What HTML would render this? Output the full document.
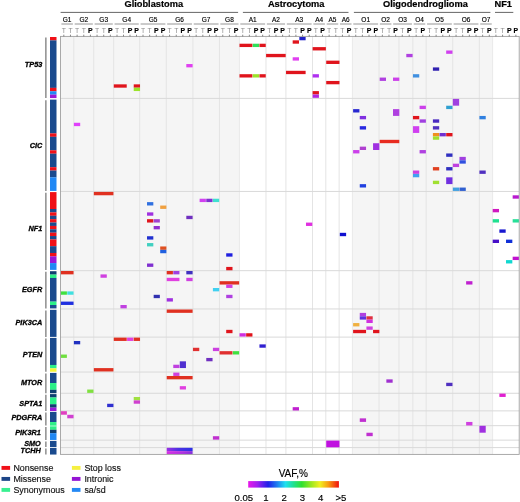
<!DOCTYPE html>
<html lang="en"><head><meta charset="utf-8"><title>VAF heatmap</title>
<style>html,body{margin:0;padding:0;background:#fff;}body{width:520px;height:502px;overflow:hidden;}svg{display:block;font-family:'Liberation Sans', Arial, Helvetica, sans-serif;filter:blur(0.35px);}</style></head><body>
<svg width="520" height="502" viewBox="0 0 520 502">
<rect x="0" y="0" width="520" height="502" fill="#ffffff"/>
<rect x="60.50" y="36.40" width="178.90" height="418.00" fill="#f5f5f5"/>
<rect x="239.40" y="36.40" width="113.02" height="418.00" fill="#ffffff"/>
<rect x="352.41" y="36.40" width="140.21" height="418.00" fill="#f5f5f5"/>
<rect x="492.62" y="36.40" width="26.59" height="418.00" fill="#ffffff"/>
<line x1="73.80" y1="36.40" x2="73.80" y2="454.40" stroke="#e4e4e4" stroke-width="1"/>
<line x1="93.74" y1="36.40" x2="93.74" y2="454.40" stroke="#e4e4e4" stroke-width="1"/>
<line x1="113.68" y1="36.40" x2="113.68" y2="454.40" stroke="#e4e4e4" stroke-width="1"/>
<line x1="139.68" y1="36.40" x2="139.68" y2="454.40" stroke="#e4e4e4" stroke-width="1"/>
<line x1="166.27" y1="36.40" x2="166.27" y2="454.40" stroke="#e4e4e4" stroke-width="1"/>
<line x1="192.86" y1="36.40" x2="192.86" y2="454.40" stroke="#e4e4e4" stroke-width="1"/>
<line x1="219.45" y1="36.40" x2="219.45" y2="454.40" stroke="#e4e4e4" stroke-width="1"/>
<line x1="239.40" y1="36.40" x2="239.40" y2="454.40" stroke="#e9e9e9" stroke-width="1"/>
<line x1="265.99" y1="36.40" x2="265.99" y2="454.40" stroke="#e4e4e4" stroke-width="1"/>
<line x1="285.93" y1="36.40" x2="285.93" y2="454.40" stroke="#e4e4e4" stroke-width="1"/>
<line x1="312.52" y1="36.40" x2="312.52" y2="454.40" stroke="#e4e4e4" stroke-width="1"/>
<line x1="325.82" y1="36.40" x2="325.82" y2="454.40" stroke="#e4e4e4" stroke-width="1"/>
<line x1="339.12" y1="36.40" x2="339.12" y2="454.40" stroke="#e4e4e4" stroke-width="1"/>
<line x1="352.41" y1="36.40" x2="352.41" y2="454.40" stroke="#e9e9e9" stroke-width="1"/>
<line x1="379.00" y1="36.40" x2="379.00" y2="454.40" stroke="#e4e4e4" stroke-width="1"/>
<line x1="398.95" y1="36.40" x2="398.95" y2="454.40" stroke="#e4e4e4" stroke-width="1"/>
<line x1="412.84" y1="36.40" x2="412.84" y2="454.40" stroke="#e4e4e4" stroke-width="1"/>
<line x1="426.14" y1="36.40" x2="426.14" y2="454.40" stroke="#e4e4e4" stroke-width="1"/>
<line x1="452.73" y1="36.40" x2="452.73" y2="454.40" stroke="#e4e4e4" stroke-width="1"/>
<line x1="479.32" y1="36.40" x2="479.32" y2="454.40" stroke="#e4e4e4" stroke-width="1"/>
<line x1="492.62" y1="36.40" x2="492.62" y2="454.40" stroke="#e9e9e9" stroke-width="1"/>
<line x1="60.50" y1="98.39" x2="519.21" y2="98.39" stroke="#d9d9d9" stroke-width="1"/>
<line x1="60.50" y1="191.44" x2="519.21" y2="191.44" stroke="#d9d9d9" stroke-width="1"/>
<line x1="60.50" y1="270.67" x2="519.21" y2="270.67" stroke="#d9d9d9" stroke-width="1"/>
<line x1="60.50" y1="308.95" x2="519.21" y2="308.95" stroke="#d9d9d9" stroke-width="1"/>
<line x1="60.50" y1="337.11" x2="519.21" y2="337.11" stroke="#d9d9d9" stroke-width="1"/>
<line x1="60.50" y1="372.05" x2="519.21" y2="372.05" stroke="#d9d9d9" stroke-width="1"/>
<line x1="60.50" y1="393.27" x2="519.21" y2="393.27" stroke="#d9d9d9" stroke-width="1"/>
<line x1="60.50" y1="410.88" x2="519.21" y2="410.88" stroke="#d9d9d9" stroke-width="1"/>
<line x1="60.50" y1="425.66" x2="519.21" y2="425.66" stroke="#d9d9d9" stroke-width="1"/>
<line x1="60.50" y1="440.14" x2="519.21" y2="440.14" stroke="#d9d9d9" stroke-width="1"/>
<line x1="60.50" y1="447.58" x2="519.21" y2="447.58" stroke="#d9d9d9" stroke-width="1"/>
<defs><linearGradient id="tc0" x1="0" y1="0" x2="1" y2="0"><stop offset="0" stop-color="#9a30e4"/><stop offset="0.45" stop-color="#4c30e4"/><stop offset="1" stop-color="#2c30e4"/></linearGradient><linearGradient id="tc1" x1="0" y1="0" x2="1" y2="0"><stop offset="0" stop-color="#d630e4"/><stop offset="0.6" stop-color="#b030e0"/><stop offset="1" stop-color="#8430dc"/></linearGradient></defs>
<rect x="299.33" y="36.95" width="6.30" height="3.33" fill="#2222c8"/>
<rect x="292.68" y="40.34" width="6.30" height="3.33" fill="#e0141c"/>
<rect x="239.50" y="43.72" width="12.95" height="3.33" fill="#e0141c"/>
<rect x="252.79" y="43.72" width="6.30" height="3.33" fill="#30e058"/>
<rect x="259.44" y="43.72" width="6.30" height="3.33" fill="#e0141c"/>
<rect x="312.62" y="47.11" width="13.25" height="3.33" fill="#e0141c"/>
<rect x="446.18" y="50.49" width="6.30" height="3.33" fill="#d040ee"/>
<rect x="266.09" y="53.88" width="19.59" height="3.33" fill="#e0141c"/>
<rect x="406.30" y="53.88" width="6.30" height="3.33" fill="#b040e0"/>
<rect x="292.68" y="57.26" width="6.30" height="3.33" fill="#e040f0"/>
<rect x="326.22" y="60.65" width="13.25" height="3.33" fill="#e0141c"/>
<rect x="186.31" y="64.03" width="6.30" height="3.33" fill="#e040f0"/>
<rect x="432.89" y="67.41" width="6.30" height="3.33" fill="#3020b0"/>
<rect x="286.03" y="70.80" width="19.59" height="3.33" fill="#e0141c"/>
<rect x="239.50" y="74.19" width="12.95" height="3.33" fill="#e0141c"/>
<rect x="252.79" y="74.19" width="6.30" height="3.33" fill="#9be32a"/>
<rect x="259.44" y="74.19" width="6.30" height="3.33" fill="#e0141c"/>
<rect x="312.62" y="74.19" width="6.30" height="3.33" fill="#b030f0"/>
<rect x="412.94" y="74.19" width="6.30" height="3.33" fill="#4090e0"/>
<rect x="379.70" y="77.57" width="6.30" height="3.33" fill="#b040e0"/>
<rect x="393.00" y="77.57" width="6.30" height="3.33" fill="#cc40ea"/>
<rect x="326.22" y="80.95" width="13.25" height="3.33" fill="#e0141c"/>
<rect x="113.78" y="84.34" width="12.95" height="3.33" fill="#e0141c"/>
<rect x="133.73" y="84.34" width="6.30" height="3.33" fill="#e0141c"/>
<rect x="133.73" y="87.72" width="6.30" height="3.33" fill="#9be32a"/>
<rect x="312.62" y="91.11" width="6.30" height="3.33" fill="#e0141c"/>
<rect x="312.62" y="94.50" width="6.30" height="3.33" fill="#b028e0"/>
<rect x="452.83" y="98.90" width="6.30" height="6.77" fill="#a040e0"/>
<rect x="419.59" y="105.72" width="6.30" height="3.36" fill="#cc40ea"/>
<rect x="446.18" y="105.72" width="6.30" height="3.36" fill="#30a0d0"/>
<rect x="353.11" y="109.13" width="6.30" height="3.36" fill="#2828d0"/>
<rect x="393.00" y="109.13" width="6.30" height="6.77" fill="#b040e0"/>
<rect x="359.76" y="115.95" width="6.30" height="3.36" fill="#8030e0"/>
<rect x="412.94" y="115.95" width="6.30" height="3.36" fill="#e0141c"/>
<rect x="479.42" y="115.95" width="6.30" height="3.36" fill="#3080e0"/>
<rect x="419.59" y="119.36" width="6.30" height="3.36" fill="#a040e0"/>
<rect x="432.89" y="119.36" width="6.30" height="3.36" fill="#4828c0"/>
<rect x="73.90" y="122.77" width="6.30" height="3.36" fill="#e040fb"/>
<rect x="359.76" y="126.18" width="6.30" height="3.36" fill="#2828e0"/>
<rect x="412.94" y="126.18" width="6.30" height="6.77" fill="#d040f0"/>
<rect x="432.89" y="126.18" width="6.30" height="3.36" fill="#5030c0"/>
<rect x="432.89" y="133.00" width="6.30" height="3.36" fill="#f09020"/>
<rect x="439.54" y="133.00" width="6.30" height="3.36" fill="#7030d0"/>
<rect x="446.18" y="133.00" width="6.30" height="3.36" fill="#e0141c"/>
<rect x="432.89" y="136.41" width="6.30" height="3.36" fill="#a0e030"/>
<rect x="379.70" y="139.82" width="19.59" height="3.36" fill="#e82c20"/>
<rect x="373.06" y="143.23" width="6.30" height="6.77" fill="#a030e0"/>
<rect x="359.76" y="146.64" width="6.30" height="3.36" fill="#b040d0"/>
<rect x="353.11" y="150.05" width="6.30" height="3.36" fill="#cc40ea"/>
<rect x="419.59" y="150.05" width="6.30" height="3.36" fill="#b040e0"/>
<rect x="446.18" y="153.46" width="6.30" height="3.36" fill="#3030c0"/>
<rect x="459.48" y="156.87" width="6.30" height="3.36" fill="#a040e0"/>
<rect x="459.48" y="160.28" width="6.30" height="3.36" fill="#3050e0"/>
<rect x="452.83" y="163.69" width="6.30" height="3.36" fill="#c040e0"/>
<rect x="432.89" y="167.10" width="6.30" height="3.36" fill="#e04020"/>
<rect x="446.18" y="167.10" width="6.30" height="3.36" fill="#3030c0"/>
<rect x="412.94" y="170.51" width="6.30" height="3.36" fill="#cc40e0"/>
<rect x="479.42" y="170.51" width="6.30" height="3.36" fill="#5030c0"/>
<rect x="412.94" y="173.92" width="6.30" height="3.36" fill="#40a0f0"/>
<rect x="446.18" y="177.33" width="6.30" height="6.77" fill="#7030e0"/>
<rect x="432.89" y="180.74" width="6.30" height="3.36" fill="#a0e030"/>
<rect x="359.76" y="184.15" width="6.30" height="3.36" fill="#2040e0"/>
<rect x="452.83" y="187.56" width="6.30" height="3.36" fill="#40a0e0"/>
<rect x="459.48" y="187.56" width="6.30" height="3.36" fill="#3060d0"/>
<rect x="93.84" y="191.90" width="19.59" height="3.36" fill="#e03020"/>
<rect x="512.66" y="195.31" width="6.30" height="3.36" fill="#b818d0"/>
<rect x="199.61" y="198.72" width="6.30" height="3.36" fill="#d040f0"/>
<rect x="206.26" y="198.72" width="6.30" height="3.36" fill="#8030d0"/>
<rect x="212.90" y="198.72" width="6.30" height="3.36" fill="#40e0d0"/>
<rect x="147.02" y="202.13" width="6.30" height="3.36" fill="#3070e0"/>
<rect x="160.20" y="205.54" width="6.18" height="3.36" fill="#f0a040"/>
<rect x="492.72" y="208.95" width="6.30" height="3.36" fill="#d018c0"/>
<rect x="147.02" y="212.36" width="6.30" height="3.36" fill="#a030e0"/>
<rect x="186.31" y="215.77" width="6.30" height="3.36" fill="#7030c0"/>
<rect x="147.02" y="219.18" width="6.30" height="3.36" fill="#e0141c"/>
<rect x="153.67" y="219.18" width="6.18" height="3.36" fill="#a040d0"/>
<rect x="492.72" y="219.18" width="6.30" height="3.36" fill="#20e090"/>
<rect x="512.66" y="219.18" width="6.30" height="3.36" fill="#28e098"/>
<rect x="305.98" y="222.59" width="6.30" height="3.36" fill="#e030e0"/>
<rect x="153.67" y="226.00" width="6.18" height="3.36" fill="#9030d0"/>
<rect x="499.37" y="229.41" width="6.30" height="3.36" fill="#1818d0"/>
<rect x="339.82" y="232.82" width="6.30" height="3.36" fill="#1010d0"/>
<rect x="147.02" y="236.23" width="6.30" height="3.36" fill="#2030d0"/>
<rect x="492.72" y="239.64" width="6.30" height="3.36" fill="#4810c8"/>
<rect x="506.02" y="239.64" width="6.30" height="3.36" fill="#1030d8"/>
<rect x="147.02" y="243.05" width="6.30" height="3.36" fill="#40d0c0"/>
<rect x="160.20" y="246.46" width="6.18" height="3.36" fill="#e05020"/>
<rect x="160.20" y="249.87" width="6.18" height="3.36" fill="#2060e0"/>
<rect x="226.20" y="253.28" width="6.30" height="3.36" fill="#2020e0"/>
<rect x="512.66" y="256.69" width="6.30" height="3.36" fill="#c010d0"/>
<rect x="506.02" y="260.10" width="6.30" height="3.36" fill="#10d8d0"/>
<rect x="147.02" y="263.51" width="6.30" height="3.36" fill="#8030d0"/>
<rect x="226.20" y="266.92" width="6.30" height="3.36" fill="#e0141c"/>
<rect x="60.60" y="271.00" width="12.95" height="3.35" fill="#e03020"/>
<rect x="166.73" y="271.00" width="6.18" height="3.35" fill="#e03020"/>
<rect x="173.26" y="271.00" width="6.18" height="3.35" fill="#a040e0"/>
<rect x="186.31" y="271.00" width="6.30" height="3.35" fill="#4030c0"/>
<rect x="100.49" y="274.40" width="6.30" height="3.35" fill="#d040e0"/>
<rect x="166.73" y="277.80" width="12.71" height="3.35" fill="#e040e0"/>
<rect x="186.31" y="277.80" width="6.30" height="3.35" fill="#d040e0"/>
<rect x="219.55" y="281.20" width="19.59" height="3.35" fill="#e03020"/>
<rect x="466.13" y="281.20" width="6.30" height="3.35" fill="#c020d0"/>
<rect x="226.20" y="284.60" width="6.30" height="3.35" fill="#d040e0"/>
<rect x="212.90" y="288.00" width="6.30" height="3.35" fill="#40d0f0"/>
<rect x="60.60" y="291.40" width="6.30" height="3.35" fill="#40e040"/>
<rect x="67.25" y="291.40" width="6.30" height="3.35" fill="#40e0e0"/>
<rect x="153.67" y="294.80" width="6.18" height="3.35" fill="#3030b0"/>
<rect x="226.20" y="294.80" width="6.30" height="3.35" fill="#b040e0"/>
<rect x="166.73" y="298.20" width="6.18" height="3.35" fill="#a030e0"/>
<rect x="60.60" y="301.60" width="12.95" height="3.35" fill="#2030e0"/>
<rect x="120.43" y="305.00" width="6.30" height="3.35" fill="#c040e0"/>
<rect x="166.73" y="309.50" width="25.88" height="3.34" fill="#e03020"/>
<rect x="359.76" y="312.89" width="6.30" height="3.34" fill="#b040e0"/>
<rect x="359.76" y="316.28" width="6.30" height="3.34" fill="#6030e0"/>
<rect x="366.41" y="316.28" width="6.30" height="3.34" fill="#e03040"/>
<rect x="366.41" y="319.67" width="6.30" height="3.34" fill="#d030e0"/>
<rect x="353.11" y="323.06" width="6.30" height="3.34" fill="#f0b040"/>
<rect x="366.41" y="326.45" width="6.30" height="3.34" fill="#d040e0"/>
<rect x="226.20" y="329.84" width="6.30" height="3.34" fill="#e0141c"/>
<rect x="353.11" y="329.84" width="12.95" height="3.34" fill="#e0141c"/>
<rect x="373.06" y="329.84" width="6.30" height="3.34" fill="#e0141c"/>
<rect x="239.50" y="333.23" width="6.30" height="3.34" fill="#d030e0"/>
<rect x="246.14" y="333.23" width="6.30" height="3.34" fill="#e0141c"/>
<rect x="113.78" y="337.60" width="12.95" height="3.34" fill="#e03020"/>
<rect x="127.08" y="337.60" width="6.30" height="3.34" fill="#e040e0"/>
<rect x="133.73" y="337.60" width="6.30" height="3.34" fill="#e03020"/>
<rect x="73.90" y="340.99" width="6.30" height="3.34" fill="#2030c0"/>
<rect x="259.44" y="344.38" width="6.30" height="3.34" fill="#3020d0"/>
<rect x="192.96" y="347.77" width="6.30" height="3.34" fill="#e03030"/>
<rect x="212.90" y="347.77" width="6.30" height="3.34" fill="#cc40e0"/>
<rect x="219.55" y="351.16" width="12.95" height="3.34" fill="#e03030"/>
<rect x="232.85" y="351.16" width="6.30" height="3.34" fill="#40e040"/>
<rect x="60.60" y="354.55" width="6.30" height="3.34" fill="#70e040"/>
<rect x="206.26" y="357.94" width="6.30" height="3.34" fill="#7030c0"/>
<rect x="179.78" y="361.33" width="6.18" height="6.73" fill="#5030d0"/>
<rect x="173.26" y="364.72" width="6.18" height="3.34" fill="#c040e0"/>
<rect x="93.84" y="368.11" width="19.59" height="3.34" fill="#e03020"/>
<rect x="173.26" y="372.60" width="6.18" height="3.34" fill="#d040e0"/>
<rect x="166.73" y="375.99" width="25.88" height="3.34" fill="#e03020"/>
<rect x="386.35" y="379.38" width="6.30" height="3.34" fill="#a030d0"/>
<rect x="446.18" y="382.77" width="6.30" height="3.34" fill="#5030c0"/>
<rect x="179.78" y="386.16" width="6.18" height="3.34" fill="#e040e0"/>
<rect x="87.19" y="389.55" width="6.30" height="3.34" fill="#80e040"/>
<rect x="499.37" y="393.60" width="6.30" height="3.34" fill="#e020d0"/>
<rect x="133.73" y="396.99" width="6.30" height="3.34" fill="#a0e040"/>
<rect x="133.73" y="400.38" width="6.30" height="3.34" fill="#d040d0"/>
<rect x="107.14" y="403.77" width="6.30" height="3.34" fill="#3030d0"/>
<rect x="292.68" y="407.16" width="6.30" height="3.34" fill="#c020d0"/>
<rect x="60.60" y="411.20" width="6.30" height="3.53" fill="#e040c0"/>
<rect x="67.25" y="414.78" width="6.30" height="3.53" fill="#d040d0"/>
<rect x="359.76" y="418.36" width="6.30" height="3.53" fill="#c030d0"/>
<rect x="466.13" y="421.94" width="6.30" height="3.53" fill="#d040e0"/>
<rect x="479.42" y="425.80" width="6.30" height="6.89" fill="#a030e0"/>
<rect x="366.41" y="432.74" width="6.30" height="3.42" fill="#c030d0"/>
<rect x="212.90" y="436.21" width="6.30" height="3.42" fill="#c030d0"/>
<rect x="326.22" y="440.60" width="13.25" height="6.71" fill="#c010e0"/>
<rect x="166.73" y="447.80" width="25.88" height="3.25" fill="url(#tc0)"/>
<rect x="166.73" y="451.10" width="25.88" height="3.25" fill="url(#tc1)"/>
<rect x="60.50" y="36.40" width="458.71" height="418.00" fill="none" stroke="#a0a0a0" stroke-width="0.9"/>
<line x1="63.82" y1="34.7" x2="63.82" y2="36.40" stroke="#555" stroke-width="0.7"/>
<text x="63.82" y="33.4" font-size="6.8" fill="#8c8c8c" text-anchor="middle">T</text>
<line x1="70.47" y1="34.7" x2="70.47" y2="36.40" stroke="#555" stroke-width="0.7"/>
<text x="70.47" y="33.4" font-size="6.8" fill="#8c8c8c" text-anchor="middle">T</text>
<line x1="61.40" y1="24.0" x2="72.90" y2="24.0" stroke="#8a8a8a" stroke-width="0.9"/>
<text x="67.15" y="21.6" font-size="6.5" fill="#000" stroke="#000" stroke-width="0.15" text-anchor="middle">G1</text>
<line x1="77.12" y1="34.7" x2="77.12" y2="36.40" stroke="#555" stroke-width="0.7"/>
<text x="77.12" y="33.4" font-size="6.8" fill="#8c8c8c" text-anchor="middle">T</text>
<line x1="83.77" y1="34.7" x2="83.77" y2="36.40" stroke="#555" stroke-width="0.7"/>
<text x="83.77" y="33.4" font-size="6.8" fill="#8c8c8c" text-anchor="middle">T</text>
<line x1="90.42" y1="34.7" x2="90.42" y2="36.40" stroke="#555" stroke-width="0.7"/>
<text x="90.42" y="33.4" font-size="6.9" font-weight="bold" fill="#000" stroke="#000" stroke-width="0.15" text-anchor="middle">P</text>
<line x1="74.70" y1="24.0" x2="92.84" y2="24.0" stroke="#8a8a8a" stroke-width="0.9"/>
<text x="83.77" y="21.6" font-size="6.5" fill="#000" stroke="#000" stroke-width="0.15" text-anchor="middle">G2</text>
<line x1="97.06" y1="34.7" x2="97.06" y2="36.40" stroke="#555" stroke-width="0.7"/>
<text x="97.06" y="33.4" font-size="6.8" fill="#8c8c8c" text-anchor="middle">T</text>
<line x1="103.71" y1="34.7" x2="103.71" y2="36.40" stroke="#555" stroke-width="0.7"/>
<text x="103.71" y="33.4" font-size="6.8" fill="#8c8c8c" text-anchor="middle">T</text>
<line x1="110.36" y1="34.7" x2="110.36" y2="36.40" stroke="#555" stroke-width="0.7"/>
<text x="110.36" y="33.4" font-size="6.9" font-weight="bold" fill="#000" stroke="#000" stroke-width="0.15" text-anchor="middle">P</text>
<line x1="94.64" y1="24.0" x2="112.78" y2="24.0" stroke="#8a8a8a" stroke-width="0.9"/>
<text x="103.71" y="21.6" font-size="6.5" fill="#000" stroke="#000" stroke-width="0.15" text-anchor="middle">G3</text>
<line x1="117.01" y1="34.7" x2="117.01" y2="36.40" stroke="#555" stroke-width="0.7"/>
<text x="117.01" y="33.4" font-size="6.8" fill="#8c8c8c" text-anchor="middle">T</text>
<line x1="123.51" y1="34.7" x2="123.51" y2="36.40" stroke="#555" stroke-width="0.7"/>
<text x="123.51" y="33.4" font-size="6.8" fill="#8c8c8c" text-anchor="middle">T</text>
<line x1="130.00" y1="34.7" x2="130.00" y2="36.40" stroke="#555" stroke-width="0.7"/>
<text x="130.00" y="33.4" font-size="6.9" font-weight="bold" fill="#000" stroke="#000" stroke-width="0.15" text-anchor="middle">P</text>
<line x1="136.50" y1="34.7" x2="136.50" y2="36.40" stroke="#555" stroke-width="0.7"/>
<text x="136.50" y="33.4" font-size="6.9" font-weight="bold" fill="#000" stroke="#000" stroke-width="0.15" text-anchor="middle">P</text>
<line x1="114.58" y1="24.0" x2="138.78" y2="24.0" stroke="#8a8a8a" stroke-width="0.9"/>
<text x="126.68" y="21.6" font-size="6.5" fill="#000" stroke="#000" stroke-width="0.15" text-anchor="middle">G4</text>
<line x1="143.00" y1="34.7" x2="143.00" y2="36.40" stroke="#555" stroke-width="0.7"/>
<text x="143.00" y="33.4" font-size="6.8" fill="#8c8c8c" text-anchor="middle">T</text>
<line x1="149.65" y1="34.7" x2="149.65" y2="36.40" stroke="#555" stroke-width="0.7"/>
<text x="149.65" y="33.4" font-size="6.8" fill="#8c8c8c" text-anchor="middle">T</text>
<line x1="156.30" y1="34.7" x2="156.30" y2="36.40" stroke="#555" stroke-width="0.7"/>
<text x="156.30" y="33.4" font-size="6.9" font-weight="bold" fill="#000" stroke="#000" stroke-width="0.15" text-anchor="middle">P</text>
<line x1="162.94" y1="34.7" x2="162.94" y2="36.40" stroke="#555" stroke-width="0.7"/>
<text x="162.94" y="33.4" font-size="6.9" font-weight="bold" fill="#000" stroke="#000" stroke-width="0.15" text-anchor="middle">P</text>
<line x1="140.58" y1="24.0" x2="165.37" y2="24.0" stroke="#8a8a8a" stroke-width="0.9"/>
<text x="152.97" y="21.6" font-size="6.5" fill="#000" stroke="#000" stroke-width="0.15" text-anchor="middle">G5</text>
<line x1="169.59" y1="34.7" x2="169.59" y2="36.40" stroke="#555" stroke-width="0.7"/>
<text x="169.59" y="33.4" font-size="6.8" fill="#8c8c8c" text-anchor="middle">T</text>
<line x1="176.24" y1="34.7" x2="176.24" y2="36.40" stroke="#555" stroke-width="0.7"/>
<text x="176.24" y="33.4" font-size="6.8" fill="#8c8c8c" text-anchor="middle">T</text>
<line x1="182.89" y1="34.7" x2="182.89" y2="36.40" stroke="#555" stroke-width="0.7"/>
<text x="182.89" y="33.4" font-size="6.9" font-weight="bold" fill="#000" stroke="#000" stroke-width="0.15" text-anchor="middle">P</text>
<line x1="189.54" y1="34.7" x2="189.54" y2="36.40" stroke="#555" stroke-width="0.7"/>
<text x="189.54" y="33.4" font-size="6.9" font-weight="bold" fill="#000" stroke="#000" stroke-width="0.15" text-anchor="middle">P</text>
<line x1="167.17" y1="24.0" x2="191.96" y2="24.0" stroke="#8a8a8a" stroke-width="0.9"/>
<text x="179.56" y="21.6" font-size="6.5" fill="#000" stroke="#000" stroke-width="0.15" text-anchor="middle">G6</text>
<line x1="196.18" y1="34.7" x2="196.18" y2="36.40" stroke="#555" stroke-width="0.7"/>
<text x="196.18" y="33.4" font-size="6.8" fill="#8c8c8c" text-anchor="middle">T</text>
<line x1="202.83" y1="34.7" x2="202.83" y2="36.40" stroke="#555" stroke-width="0.7"/>
<text x="202.83" y="33.4" font-size="6.8" fill="#8c8c8c" text-anchor="middle">T</text>
<line x1="209.48" y1="34.7" x2="209.48" y2="36.40" stroke="#555" stroke-width="0.7"/>
<text x="209.48" y="33.4" font-size="6.9" font-weight="bold" fill="#000" stroke="#000" stroke-width="0.15" text-anchor="middle">P</text>
<line x1="216.13" y1="34.7" x2="216.13" y2="36.40" stroke="#555" stroke-width="0.7"/>
<text x="216.13" y="33.4" font-size="6.9" font-weight="bold" fill="#000" stroke="#000" stroke-width="0.15" text-anchor="middle">P</text>
<line x1="193.76" y1="24.0" x2="218.55" y2="24.0" stroke="#8a8a8a" stroke-width="0.9"/>
<text x="206.16" y="21.6" font-size="6.5" fill="#000" stroke="#000" stroke-width="0.15" text-anchor="middle">G7</text>
<line x1="222.78" y1="34.7" x2="222.78" y2="36.40" stroke="#555" stroke-width="0.7"/>
<text x="222.78" y="33.4" font-size="6.8" fill="#8c8c8c" text-anchor="middle">T</text>
<line x1="229.42" y1="34.7" x2="229.42" y2="36.40" stroke="#555" stroke-width="0.7"/>
<text x="229.42" y="33.4" font-size="6.8" fill="#8c8c8c" text-anchor="middle">T</text>
<line x1="236.07" y1="34.7" x2="236.07" y2="36.40" stroke="#555" stroke-width="0.7"/>
<text x="236.07" y="33.4" font-size="6.9" font-weight="bold" fill="#000" stroke="#000" stroke-width="0.15" text-anchor="middle">P</text>
<line x1="220.35" y1="24.0" x2="238.50" y2="24.0" stroke="#8a8a8a" stroke-width="0.9"/>
<text x="229.42" y="21.6" font-size="6.5" fill="#000" stroke="#000" stroke-width="0.15" text-anchor="middle">G8</text>
<line x1="242.72" y1="34.7" x2="242.72" y2="36.40" stroke="#555" stroke-width="0.7"/>
<text x="242.72" y="33.4" font-size="6.8" fill="#8c8c8c" text-anchor="middle">T</text>
<line x1="249.37" y1="34.7" x2="249.37" y2="36.40" stroke="#555" stroke-width="0.7"/>
<text x="249.37" y="33.4" font-size="6.8" fill="#8c8c8c" text-anchor="middle">T</text>
<line x1="256.02" y1="34.7" x2="256.02" y2="36.40" stroke="#555" stroke-width="0.7"/>
<text x="256.02" y="33.4" font-size="6.9" font-weight="bold" fill="#000" stroke="#000" stroke-width="0.15" text-anchor="middle">P</text>
<line x1="262.66" y1="34.7" x2="262.66" y2="36.40" stroke="#555" stroke-width="0.7"/>
<text x="262.66" y="33.4" font-size="6.9" font-weight="bold" fill="#000" stroke="#000" stroke-width="0.15" text-anchor="middle">P</text>
<line x1="240.30" y1="24.0" x2="265.09" y2="24.0" stroke="#8a8a8a" stroke-width="0.9"/>
<text x="252.69" y="21.6" font-size="6.5" fill="#000" stroke="#000" stroke-width="0.15" text-anchor="middle">A1</text>
<line x1="269.31" y1="34.7" x2="269.31" y2="36.40" stroke="#555" stroke-width="0.7"/>
<text x="269.31" y="33.4" font-size="6.8" fill="#8c8c8c" text-anchor="middle">T</text>
<line x1="275.96" y1="34.7" x2="275.96" y2="36.40" stroke="#555" stroke-width="0.7"/>
<text x="275.96" y="33.4" font-size="6.9" font-weight="bold" fill="#000" stroke="#000" stroke-width="0.15" text-anchor="middle">P</text>
<line x1="282.61" y1="34.7" x2="282.61" y2="36.40" stroke="#555" stroke-width="0.7"/>
<text x="282.61" y="33.4" font-size="6.9" font-weight="bold" fill="#000" stroke="#000" stroke-width="0.15" text-anchor="middle">P</text>
<line x1="266.89" y1="24.0" x2="285.03" y2="24.0" stroke="#8a8a8a" stroke-width="0.9"/>
<text x="275.96" y="21.6" font-size="6.5" fill="#000" stroke="#000" stroke-width="0.15" text-anchor="middle">A2</text>
<line x1="289.26" y1="34.7" x2="289.26" y2="36.40" stroke="#555" stroke-width="0.7"/>
<text x="289.26" y="33.4" font-size="6.8" fill="#8c8c8c" text-anchor="middle">T</text>
<line x1="295.90" y1="34.7" x2="295.90" y2="36.40" stroke="#555" stroke-width="0.7"/>
<text x="295.90" y="33.4" font-size="6.8" fill="#8c8c8c" text-anchor="middle">T</text>
<line x1="302.55" y1="34.7" x2="302.55" y2="36.40" stroke="#555" stroke-width="0.7"/>
<text x="302.55" y="33.4" font-size="6.9" font-weight="bold" fill="#000" stroke="#000" stroke-width="0.15" text-anchor="middle">P</text>
<line x1="309.20" y1="34.7" x2="309.20" y2="36.40" stroke="#555" stroke-width="0.7"/>
<text x="309.20" y="33.4" font-size="6.9" font-weight="bold" fill="#000" stroke="#000" stroke-width="0.15" text-anchor="middle">P</text>
<line x1="286.83" y1="24.0" x2="311.62" y2="24.0" stroke="#8a8a8a" stroke-width="0.9"/>
<text x="299.23" y="21.6" font-size="6.5" fill="#000" stroke="#000" stroke-width="0.15" text-anchor="middle">A3</text>
<line x1="315.85" y1="34.7" x2="315.85" y2="36.40" stroke="#555" stroke-width="0.7"/>
<text x="315.85" y="33.4" font-size="6.8" fill="#8c8c8c" text-anchor="middle">T</text>
<line x1="322.50" y1="34.7" x2="322.50" y2="36.40" stroke="#555" stroke-width="0.7"/>
<text x="322.50" y="33.4" font-size="6.9" font-weight="bold" fill="#000" stroke="#000" stroke-width="0.15" text-anchor="middle">P</text>
<line x1="313.42" y1="24.0" x2="324.92" y2="24.0" stroke="#8a8a8a" stroke-width="0.9"/>
<text x="319.17" y="21.6" font-size="6.5" fill="#000" stroke="#000" stroke-width="0.15" text-anchor="middle">A4</text>
<line x1="329.14" y1="34.7" x2="329.14" y2="36.40" stroke="#555" stroke-width="0.7"/>
<text x="329.14" y="33.4" font-size="6.8" fill="#8c8c8c" text-anchor="middle">T</text>
<line x1="335.79" y1="34.7" x2="335.79" y2="36.40" stroke="#555" stroke-width="0.7"/>
<text x="335.79" y="33.4" font-size="6.8" fill="#8c8c8c" text-anchor="middle">T</text>
<line x1="326.72" y1="24.0" x2="338.22" y2="24.0" stroke="#8a8a8a" stroke-width="0.9"/>
<text x="332.47" y="21.6" font-size="6.5" fill="#000" stroke="#000" stroke-width="0.15" text-anchor="middle">A5</text>
<line x1="342.44" y1="34.7" x2="342.44" y2="36.40" stroke="#555" stroke-width="0.7"/>
<text x="342.44" y="33.4" font-size="6.8" fill="#8c8c8c" text-anchor="middle">T</text>
<line x1="349.09" y1="34.7" x2="349.09" y2="36.40" stroke="#555" stroke-width="0.7"/>
<text x="349.09" y="33.4" font-size="6.9" font-weight="bold" fill="#000" stroke="#000" stroke-width="0.15" text-anchor="middle">P</text>
<line x1="340.02" y1="24.0" x2="351.51" y2="24.0" stroke="#8a8a8a" stroke-width="0.9"/>
<text x="345.76" y="21.6" font-size="6.5" fill="#000" stroke="#000" stroke-width="0.15" text-anchor="middle">A6</text>
<line x1="355.74" y1="34.7" x2="355.74" y2="36.40" stroke="#555" stroke-width="0.7"/>
<text x="355.74" y="33.4" font-size="6.8" fill="#8c8c8c" text-anchor="middle">T</text>
<line x1="362.38" y1="34.7" x2="362.38" y2="36.40" stroke="#555" stroke-width="0.7"/>
<text x="362.38" y="33.4" font-size="6.8" fill="#8c8c8c" text-anchor="middle">T</text>
<line x1="369.03" y1="34.7" x2="369.03" y2="36.40" stroke="#555" stroke-width="0.7"/>
<text x="369.03" y="33.4" font-size="6.9" font-weight="bold" fill="#000" stroke="#000" stroke-width="0.15" text-anchor="middle">P</text>
<line x1="375.68" y1="34.7" x2="375.68" y2="36.40" stroke="#555" stroke-width="0.7"/>
<text x="375.68" y="33.4" font-size="6.9" font-weight="bold" fill="#000" stroke="#000" stroke-width="0.15" text-anchor="middle">P</text>
<line x1="353.31" y1="24.0" x2="378.10" y2="24.0" stroke="#8a8a8a" stroke-width="0.9"/>
<text x="365.71" y="21.6" font-size="6.5" fill="#000" stroke="#000" stroke-width="0.15" text-anchor="middle">O1</text>
<line x1="382.33" y1="34.7" x2="382.33" y2="36.40" stroke="#555" stroke-width="0.7"/>
<text x="382.33" y="33.4" font-size="6.8" fill="#8c8c8c" text-anchor="middle">T</text>
<line x1="388.98" y1="34.7" x2="388.98" y2="36.40" stroke="#555" stroke-width="0.7"/>
<text x="388.98" y="33.4" font-size="6.8" fill="#8c8c8c" text-anchor="middle">T</text>
<line x1="395.62" y1="34.7" x2="395.62" y2="36.40" stroke="#555" stroke-width="0.7"/>
<text x="395.62" y="33.4" font-size="6.9" font-weight="bold" fill="#000" stroke="#000" stroke-width="0.15" text-anchor="middle">P</text>
<line x1="379.90" y1="24.0" x2="391.40" y2="24.0" stroke="#8a8a8a" stroke-width="0.9"/>
<text x="385.65" y="21.6" font-size="6.5" fill="#000" stroke="#000" stroke-width="0.15" text-anchor="middle">O2</text>
<line x1="402.27" y1="34.7" x2="402.27" y2="36.40" stroke="#555" stroke-width="0.7"/>
<text x="402.27" y="33.4" font-size="6.8" fill="#8c8c8c" text-anchor="middle">T</text>
<line x1="409.22" y1="34.7" x2="409.22" y2="36.40" stroke="#555" stroke-width="0.7"/>
<text x="409.22" y="33.4" font-size="6.9" font-weight="bold" fill="#000" stroke="#000" stroke-width="0.15" text-anchor="middle">P</text>
<line x1="393.20" y1="24.0" x2="411.94" y2="24.0" stroke="#8a8a8a" stroke-width="0.9"/>
<text x="402.57" y="21.6" font-size="6.5" fill="#000" stroke="#000" stroke-width="0.15" text-anchor="middle">O3</text>
<line x1="416.17" y1="34.7" x2="416.17" y2="36.40" stroke="#555" stroke-width="0.7"/>
<text x="416.17" y="33.4" font-size="6.8" fill="#8c8c8c" text-anchor="middle">T</text>
<line x1="422.82" y1="34.7" x2="422.82" y2="36.40" stroke="#555" stroke-width="0.7"/>
<text x="422.82" y="33.4" font-size="6.9" font-weight="bold" fill="#000" stroke="#000" stroke-width="0.15" text-anchor="middle">P</text>
<line x1="413.74" y1="24.0" x2="425.24" y2="24.0" stroke="#8a8a8a" stroke-width="0.9"/>
<text x="419.49" y="21.6" font-size="6.5" fill="#000" stroke="#000" stroke-width="0.15" text-anchor="middle">O4</text>
<line x1="429.46" y1="34.7" x2="429.46" y2="36.40" stroke="#555" stroke-width="0.7"/>
<text x="429.46" y="33.4" font-size="6.8" fill="#8c8c8c" text-anchor="middle">T</text>
<line x1="436.11" y1="34.7" x2="436.11" y2="36.40" stroke="#555" stroke-width="0.7"/>
<text x="436.11" y="33.4" font-size="6.8" fill="#8c8c8c" text-anchor="middle">T</text>
<line x1="442.76" y1="34.7" x2="442.76" y2="36.40" stroke="#555" stroke-width="0.7"/>
<text x="442.76" y="33.4" font-size="6.9" font-weight="bold" fill="#000" stroke="#000" stroke-width="0.15" text-anchor="middle">P</text>
<line x1="449.41" y1="34.7" x2="449.41" y2="36.40" stroke="#555" stroke-width="0.7"/>
<text x="449.41" y="33.4" font-size="6.9" font-weight="bold" fill="#000" stroke="#000" stroke-width="0.15" text-anchor="middle">P</text>
<line x1="427.04" y1="24.0" x2="451.83" y2="24.0" stroke="#8a8a8a" stroke-width="0.9"/>
<text x="439.44" y="21.6" font-size="6.5" fill="#000" stroke="#000" stroke-width="0.15" text-anchor="middle">O5</text>
<line x1="456.06" y1="34.7" x2="456.06" y2="36.40" stroke="#555" stroke-width="0.7"/>
<text x="456.06" y="33.4" font-size="6.8" fill="#8c8c8c" text-anchor="middle">T</text>
<line x1="462.70" y1="34.7" x2="462.70" y2="36.40" stroke="#555" stroke-width="0.7"/>
<text x="462.70" y="33.4" font-size="6.8" fill="#8c8c8c" text-anchor="middle">T</text>
<line x1="469.35" y1="34.7" x2="469.35" y2="36.40" stroke="#555" stroke-width="0.7"/>
<text x="469.35" y="33.4" font-size="6.9" font-weight="bold" fill="#000" stroke="#000" stroke-width="0.15" text-anchor="middle">P</text>
<line x1="476.00" y1="34.7" x2="476.00" y2="36.40" stroke="#555" stroke-width="0.7"/>
<text x="476.00" y="33.4" font-size="6.9" font-weight="bold" fill="#000" stroke="#000" stroke-width="0.15" text-anchor="middle">P</text>
<line x1="453.63" y1="24.0" x2="478.42" y2="24.0" stroke="#8a8a8a" stroke-width="0.9"/>
<text x="466.03" y="21.6" font-size="6.5" fill="#000" stroke="#000" stroke-width="0.15" text-anchor="middle">O6</text>
<line x1="482.65" y1="34.7" x2="482.65" y2="36.40" stroke="#555" stroke-width="0.7"/>
<text x="482.65" y="33.4" font-size="6.8" fill="#8c8c8c" text-anchor="middle">T</text>
<line x1="489.30" y1="34.7" x2="489.30" y2="36.40" stroke="#555" stroke-width="0.7"/>
<text x="489.30" y="33.4" font-size="6.9" font-weight="bold" fill="#000" stroke="#000" stroke-width="0.15" text-anchor="middle">P</text>
<line x1="480.22" y1="24.0" x2="491.72" y2="24.0" stroke="#8a8a8a" stroke-width="0.9"/>
<text x="485.97" y="21.6" font-size="6.5" fill="#000" stroke="#000" stroke-width="0.15" text-anchor="middle">O7</text>
<line x1="495.94" y1="34.7" x2="495.94" y2="36.40" stroke="#555" stroke-width="0.7"/>
<text x="495.94" y="33.4" font-size="6.8" fill="#8c8c8c" text-anchor="middle">T</text>
<line x1="502.59" y1="34.7" x2="502.59" y2="36.40" stroke="#555" stroke-width="0.7"/>
<text x="502.59" y="33.4" font-size="6.8" fill="#8c8c8c" text-anchor="middle">T</text>
<line x1="509.24" y1="34.7" x2="509.24" y2="36.40" stroke="#555" stroke-width="0.7"/>
<text x="509.24" y="33.4" font-size="6.9" font-weight="bold" fill="#000" stroke="#000" stroke-width="0.15" text-anchor="middle">P</text>
<line x1="515.89" y1="34.7" x2="515.89" y2="36.40" stroke="#555" stroke-width="0.7"/>
<text x="515.89" y="33.4" font-size="6.9" font-weight="bold" fill="#000" stroke="#000" stroke-width="0.15" text-anchor="middle">P</text>
<text x="153.80" y="7.4" font-size="9.25" font-weight="bold" fill="#000" stroke="#000" stroke-width="0.2" text-anchor="middle">Glioblastoma</text>
<line x1="60.60" y1="12.4" x2="238.10" y2="12.4" stroke="#555" stroke-width="0.9"/>
<text x="296.20" y="7.4" font-size="9.25" font-weight="bold" fill="#000" stroke="#000" stroke-width="0.2" text-anchor="middle">Astrocytoma</text>
<line x1="242.90" y1="12.4" x2="348.50" y2="12.4" stroke="#555" stroke-width="0.9"/>
<text x="425.40" y="7.4" font-size="9.25" font-weight="bold" fill="#000" stroke="#000" stroke-width="0.2" text-anchor="middle">Oligodendroglioma</text>
<line x1="353.90" y1="12.4" x2="490.40" y2="12.4" stroke="#555" stroke-width="0.9"/>
<text x="503.20" y="7.4" font-size="9.25" font-weight="bold" fill="#000" stroke="#000" stroke-width="0.2" text-anchor="middle">NF1</text>
<line x1="495.00" y1="12.4" x2="513.30" y2="12.4" stroke="#555" stroke-width="0.9"/>
<rect x="50.0" y="37.00" width="6.5" height="3.44" fill="#f01018"/>
<rect x="50.0" y="40.39" width="6.5" height="47.51" fill="#1a4a8e"/>
<rect x="50.0" y="87.85" width="6.5" height="3.44" fill="#f01018"/>
<rect x="50.0" y="91.24" width="6.5" height="3.44" fill="#2088f4"/>
<rect x="50.0" y="94.63" width="6.5" height="3.44" fill="#9818d8"/>
<line x1="45.9" y1="37.60" x2="45.9" y2="98.12" stroke="#5c5c5c" stroke-width="1.05"/>
<text transform="translate(42.3 66.95) scale(0.95 1)" x="0" y="0" font-size="7.7" font-weight="bold" font-style="italic" fill="#000" stroke="#000" stroke-width="0.3" text-anchor="end">TP53</text>
<rect x="50.0" y="99.60" width="6.5" height="33.85" fill="#1a4a8e"/>
<rect x="50.0" y="133.40" width="6.5" height="3.43" fill="#f01018"/>
<rect x="50.0" y="136.78" width="6.5" height="13.57" fill="#1a4a8e"/>
<rect x="50.0" y="150.30" width="6.5" height="3.43" fill="#f01018"/>
<rect x="50.0" y="153.68" width="6.5" height="13.57" fill="#1a4a8e"/>
<rect x="50.0" y="167.20" width="6.5" height="3.43" fill="#f01018"/>
<rect x="50.0" y="170.58" width="6.5" height="6.81" fill="#1a4a8e"/>
<rect x="50.0" y="177.34" width="6.5" height="13.57" fill="#2088f4"/>
<line x1="45.9" y1="100.20" x2="45.9" y2="190.96" stroke="#5c5c5c" stroke-width="1.05"/>
<text transform="translate(42.3 147.95) scale(0.95 1)" x="0" y="0" font-size="7.7" font-weight="bold" font-style="italic" fill="#000" stroke="#000" stroke-width="0.3" text-anchor="end">CIC</text>
<rect x="50.0" y="192.10" width="6.5" height="16.95" fill="#f01018"/>
<rect x="50.0" y="209.00" width="6.5" height="3.43" fill="#1a4a8e"/>
<rect x="50.0" y="212.38" width="6.5" height="3.43" fill="#f01018"/>
<rect x="50.0" y="215.76" width="6.5" height="3.43" fill="#1a4a8e"/>
<rect x="50.0" y="219.14" width="6.5" height="3.43" fill="#f01018"/>
<rect x="50.0" y="222.52" width="6.5" height="3.43" fill="#1a4a8e"/>
<rect x="50.0" y="225.90" width="6.5" height="3.43" fill="#f01018"/>
<rect x="50.0" y="229.28" width="6.5" height="3.43" fill="#1a4a8e"/>
<rect x="50.0" y="232.66" width="6.5" height="3.43" fill="#f01018"/>
<rect x="50.0" y="236.04" width="6.5" height="3.43" fill="#1a4a8e"/>
<rect x="50.0" y="239.42" width="6.5" height="6.81" fill="#f01018"/>
<rect x="50.0" y="246.18" width="6.5" height="6.81" fill="#1a4a8e"/>
<rect x="50.0" y="252.94" width="6.5" height="3.43" fill="#f01018"/>
<rect x="50.0" y="256.32" width="6.5" height="6.81" fill="#9818d8"/>
<rect x="50.0" y="263.08" width="6.5" height="6.81" fill="#2088f4"/>
<line x1="45.9" y1="192.70" x2="45.9" y2="269.94" stroke="#5c5c5c" stroke-width="1.05"/>
<text transform="translate(42.3 230.95) scale(0.95 1)" x="0" y="0" font-size="7.7" font-weight="bold" font-style="italic" fill="#000" stroke="#000" stroke-width="0.3" text-anchor="end">NF1</text>
<rect x="50.0" y="271.20" width="6.5" height="3.43" fill="#0e3f70"/>
<rect x="50.0" y="274.58" width="6.5" height="3.43" fill="#2cf088"/>
<rect x="50.0" y="277.96" width="6.5" height="23.71" fill="#1a4a8e"/>
<rect x="50.0" y="301.62" width="6.5" height="3.43" fill="#2cf088"/>
<rect x="50.0" y="305.00" width="6.5" height="3.43" fill="#1a4a8e"/>
<line x1="45.9" y1="271.80" x2="45.9" y2="308.48" stroke="#5c5c5c" stroke-width="1.05"/>
<text transform="translate(42.3 291.65) scale(0.95 1)" x="0" y="0" font-size="7.7" font-weight="bold" font-style="italic" fill="#000" stroke="#000" stroke-width="0.3" text-anchor="end">EGFR</text>
<rect x="50.0" y="309.80" width="6.5" height="27.09" fill="#1a4a8e"/>
<line x1="45.9" y1="310.40" x2="45.9" y2="336.94" stroke="#5c5c5c" stroke-width="1.05"/>
<text transform="translate(42.3 325.35) scale(0.95 1)" x="0" y="0" font-size="7.7" font-weight="bold" font-style="italic" fill="#000" stroke="#000" stroke-width="0.3" text-anchor="end">PIK3CA</text>
<rect x="50.0" y="337.90" width="6.5" height="27.09" fill="#1a4a8e"/>
<rect x="50.0" y="364.94" width="6.5" height="3.43" fill="#2cf088"/>
<rect x="50.0" y="368.32" width="6.5" height="3.43" fill="#f4f438"/>
<line x1="45.9" y1="338.50" x2="45.9" y2="371.80" stroke="#5c5c5c" stroke-width="1.05"/>
<text transform="translate(42.3 356.85) scale(0.95 1)" x="0" y="0" font-size="7.7" font-weight="bold" font-style="italic" fill="#000" stroke="#000" stroke-width="0.3" text-anchor="end">PTEN</text>
<rect x="50.0" y="372.90" width="6.5" height="10.19" fill="#1a4a8e"/>
<rect x="50.0" y="383.04" width="6.5" height="6.81" fill="#2cf088"/>
<rect x="50.0" y="389.80" width="6.5" height="3.43" fill="#0e3f70"/>
<line x1="45.9" y1="373.50" x2="45.9" y2="393.28" stroke="#5c5c5c" stroke-width="1.05"/>
<text transform="translate(42.3 385.45) scale(0.95 1)" x="0" y="0" font-size="7.7" font-weight="bold" font-style="italic" fill="#000" stroke="#000" stroke-width="0.3" text-anchor="end">MTOR</text>
<rect x="50.0" y="394.10" width="6.5" height="3.43" fill="#0e3f70"/>
<rect x="50.0" y="397.48" width="6.5" height="6.81" fill="#2cf088"/>
<rect x="50.0" y="404.24" width="6.5" height="3.43" fill="#0e3f70"/>
<rect x="50.0" y="407.62" width="6.5" height="3.43" fill="#9818d8"/>
<line x1="45.9" y1="394.70" x2="45.9" y2="411.10" stroke="#5c5c5c" stroke-width="1.05"/>
<text transform="translate(42.3 405.95) scale(0.95 1)" x="0" y="0" font-size="7.7" font-weight="bold" font-style="italic" fill="#000" stroke="#000" stroke-width="0.3" text-anchor="end">SPTA1</text>
<rect x="50.0" y="411.90" width="6.5" height="10.19" fill="#1a4a8e"/>
<rect x="50.0" y="422.04" width="6.5" height="3.43" fill="#2cf088"/>
<line x1="45.9" y1="412.50" x2="45.9" y2="425.52" stroke="#5c5c5c" stroke-width="1.05"/>
<text transform="translate(42.3 420.05) scale(0.95 1)" x="0" y="0" font-size="7.7" font-weight="bold" font-style="italic" fill="#000" stroke="#000" stroke-width="0.3" text-anchor="end">PDGFRA</text>
<rect x="50.0" y="426.40" width="6.5" height="3.43" fill="#2cf088"/>
<rect x="50.0" y="429.78" width="6.5" height="3.43" fill="#0e3f70"/>
<rect x="50.0" y="433.16" width="6.5" height="6.81" fill="#2088f4"/>
<line x1="45.9" y1="427.00" x2="45.9" y2="440.02" stroke="#5c5c5c" stroke-width="1.05"/>
<text transform="translate(40.8 434.85) scale(0.95 1)" x="0" y="0" font-size="7.7" font-weight="bold" font-style="italic" fill="#000" stroke="#000" stroke-width="0.3" text-anchor="end">PIK3R1</text>
<rect x="50.0" y="440.90" width="6.5" height="6.15" fill="#1a4a8e"/>
<line x1="45.9" y1="441.50" x2="45.9" y2="447.10" stroke="#5c5c5c" stroke-width="1.05"/>
<text transform="translate(40.8 445.55) scale(0.95 1)" x="0" y="0" font-size="7.7" font-weight="bold" font-style="italic" fill="#000" stroke="#000" stroke-width="0.3" text-anchor="end">SMO</text>
<rect x="50.0" y="447.90" width="6.5" height="6.65" fill="#1a4a8e"/>
<line x1="45.9" y1="448.50" x2="45.9" y2="454.60" stroke="#5c5c5c" stroke-width="1.05"/>
<text transform="translate(40.8 453.35) scale(0.95 1)" x="0" y="0" font-size="7.7" font-weight="bold" font-style="italic" fill="#000" stroke="#000" stroke-width="0.3" text-anchor="end">TCHH</text>
<rect x="50.0" y="425.3" width="6.5" height="1.2" fill="#62f4a8"/>
<rect x="1.50" y="465.95" width="8.6" height="3.9" fill="#f01018"/>
<text x="13.40" y="470.85" font-size="8.9" fill="#111" stroke="#111" stroke-width="0.15">Nonsense</text>
<rect x="1.50" y="476.95" width="8.6" height="3.9" fill="#1c4587"/>
<text x="13.40" y="481.85" font-size="8.9" fill="#111" stroke="#111" stroke-width="0.15">Missense</text>
<rect x="1.50" y="487.95" width="8.6" height="3.9" fill="#38f090"/>
<text x="13.40" y="492.85" font-size="8.9" fill="#111" stroke="#111" stroke-width="0.15">Synonymous</text>
<rect x="71.90" y="465.95" width="8.6" height="3.9" fill="#f6f040"/>
<text x="84.40" y="470.85" font-size="8.9" fill="#111" stroke="#111" stroke-width="0.15">Stop loss</text>
<rect x="71.90" y="476.95" width="8.6" height="3.9" fill="#9414d4"/>
<text x="84.40" y="481.85" font-size="8.9" fill="#111" stroke="#111" stroke-width="0.15">Intronic</text>
<rect x="71.90" y="487.95" width="8.6" height="3.9" fill="#2488f4"/>
<text x="84.40" y="492.85" font-size="8.9" fill="#111" stroke="#111" stroke-width="0.15">sa/sd</text>
<defs><linearGradient id="vaf" x1="0" y1="0" x2="1" y2="0"><stop offset="0" stop-color="#e818e8"/><stop offset="0.10" stop-color="#a020f0"/><stop offset="0.22" stop-color="#2020e8"/><stop offset="0.32" stop-color="#2080f0"/><stop offset="0.41" stop-color="#20e0f0"/><stop offset="0.50" stop-color="#20e090"/><stop offset="0.59" stop-color="#30e030"/><stop offset="0.70" stop-color="#a0e820"/><stop offset="0.79" stop-color="#f0f020"/><stop offset="0.88" stop-color="#f8a010"/><stop offset="1" stop-color="#f01010"/></linearGradient></defs>
<rect x="248.2" y="481.1" width="90.7" height="6.5" fill="url(#vaf)"/>
<text x="293.3" y="476.7" font-size="10" fill="#000" stroke="#000" stroke-width="0.15" text-anchor="middle">VAF,%</text>
<text x="243.80" y="501.1" font-size="9.6" fill="#000" stroke="#000" stroke-width="0.15" text-anchor="middle">0.05</text>
<text x="265.80" y="501.1" font-size="9.6" fill="#000" stroke="#000" stroke-width="0.15" text-anchor="middle">1</text>
<text x="284.10" y="501.1" font-size="9.6" fill="#000" stroke="#000" stroke-width="0.15" text-anchor="middle">2</text>
<text x="302.30" y="501.1" font-size="9.6" fill="#000" stroke="#000" stroke-width="0.15" text-anchor="middle">3</text>
<text x="320.60" y="501.1" font-size="9.6" fill="#000" stroke="#000" stroke-width="0.15" text-anchor="middle">4</text>
<text x="341.00" y="501.1" font-size="9.6" fill="#000" stroke="#000" stroke-width="0.15" text-anchor="middle">&gt;5</text>
</svg></body></html>
